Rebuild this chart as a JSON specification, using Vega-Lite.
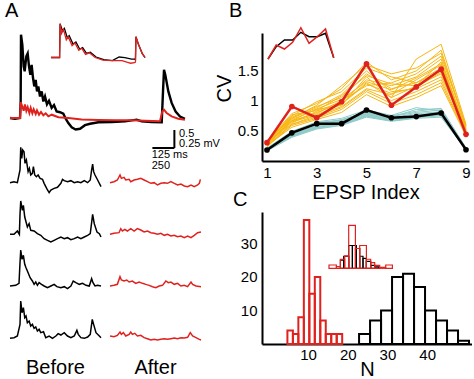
{
"$schema": "https://vega.github.io/schema/vega-lite/v6.json",
"background": "white",
"padding": {"left": 5, "top": 1, "right": 0, "bottom": 0},
"config": {
 "view": {"stroke": null},
 "font": "Liberation Sans",
 "axis": {"domainColor": "black", "domainWidth": 2, "ticks": false, "grid": false, "labelColor": "black", "labelFontSize": 15, "labelFont": "Liberation Sans", "titleFont": "Liberation Sans", "titleFontSize": 20, "titleFontWeight": "normal", "titleColor": "black"}
},
"datasets": {
 "mainTr": [
  {"cond": "Before", "t": [0,28,57,60.6,62.5,70,77.7,83.3,92.8,100.4,108,115.6,123,130.7,138,146,153.4,161,170.5,180,189.4,199,210,221.6,236.7,250,265,284,303,316.5,331.5,350.5,373,398,426,455,502,578,653.5,720,748,805,862,869.4,875,882.5,899.6,918.5,941,966,994],
   "v": [0,-0.01,0,0.23,1.16,1.02,0.72,0.65,0.86,0.90,0.72,0.60,0.74,0.56,0.44,0.53,0.37,0.44,0.30,0.37,0.23,0.30,0.19,0.24,0.14,0.18,0.09,0.08,0.06,-0.01,-0.07,-0.13,-0.16,-0.15,-0.10,-0.08,-0.06,-0.056,-0.046,-0.023,-0.046,-0.056,-0.06,0.37,0.67,0.60,0.37,0.21,0.09,0.02,-0.01]},
  {"cond": "After", "t": [0,57,60.6,70,77.7,85,92.8,100.4,110,117.5,127,134.6,146,153.4,165,176,189.4,203,218,237,275,331.5,407,502,597,691.5,767,852,866,875,890,918.5,956,994],
   "v": [0,0,0.22,0.16,0.10,0.19,0.10,0.15,0.07,0.14,0.065,0.12,0.056,0.107,0.046,0.084,0.037,0.065,0.023,0.046,0.01,0,-0.02,-0.028,-0.032,-0.032,-0.037,-0.046,0.093,0.116,0.07,0.023,-0.01,-0.023]}
 ],
 "insetA": [
  {"cond": "Before", "u": [1,10,10.5,13,15,18,20,24,27,31,34,38,42,48,56,65,72,78,85,88,89,89.5,92,96,99],
   "w": [24,24,89,75,80,62,66,50,54,40,43,32,34,25,20,18,25,24,21,21,20,64,50,32,24]},
  {"cond": "After", "u": [1,10,10.5,12,14,17,19,23,26,30,33,37,41,47,55,65,75,80,84,88,89,89.5,92,96,99],
   "w": [24,24,89,70,78,58,64,47,52,38,42,30,33,24,19,18,18,15,13,14,15,64,50,32,24]}
 ],
 "small": [
  {"trial": 1, "cond": "Before", "t": [0,4.4,8.1,11,11.8,12.9,14,15.4,16.5,18,19.9,21.3,22.8,24.6,25.7,27.2,29,30.9,33.1,35.7,37.5,39.3,41.2,43,44.9,48.5,52.2,55.9,57.7,59.6,63.2,66.9,70.6,74.3,77.9,81.6,85.3,88.2,89.7,90.8,91.9,93.4,96.3,100],
   "v": [0,0.03,0,0.38,1.06,0.73,0.98,0.93,0.58,0.68,0.33,0.43,0.23,0.28,0.48,0.23,0.18,0.23,0.13,0.10,-0.02,-0.12,-0.22,-0.30,-0.22,-0.17,-0.14,-0.02,0.10,0.06,0.03,0.06,0,0.03,0,0.06,0,0.08,0.38,0.56,0.33,0.23,0.08,-0.12]},
  {"trial": 1, "cond": "After", "t": [0,4.4,8.1,11,12.5,15.4,17.3,21,22.8,26.5,30.1,33.8,37.5,41.2,44.9,48.5,52.2,55.9,59.6,63.2,66.9,70.6,74.3,77.9,81.6,85.3,89,92.6,96.3,98.2,99.3],
   "v": [0,0.03,0.08,0.23,0.13,0.16,0.08,0.10,0.03,0.08,0.10,0.13,0.08,0.03,-0.02,0,-0.07,-0.02,0,-0.02,0.03,-0.02,-0.07,-0.04,-0.10,-0.12,-0.07,-0.12,-0.07,-0.02,0.10]},
  {"trial": 2, "cond": "Before", "t": [0,4.4,8.1,10.3,11,11.8,13.6,14.7,16.2,19.1,21,22.8,26.5,30.1,33.8,37.5,41.2,44.9,48.5,52.2,55.9,59.6,63.2,66.9,70.6,74.3,77.9,81.6,85.3,88.2,89.7,90.8,92.6,95.6,98.2,100],
   "v": [0,0,0.1,0,0.6,1.0,0.72,0.87,0.52,0.22,0.32,0.12,0.10,0.02,-0.03,-0.13,-0.18,-0.23,-0.18,-0.13,-0.08,-0.13,-0.10,-0.16,-0.13,-0.08,-0.13,-0.08,-0.03,0.02,0.35,0.60,0.32,0.07,0.02,-0.08]},
  {"trial": 2, "cond": "After", "t": [0,4.4,9.9,11.8,13.6,16.2,19.1,22.8,26.5,30.1,33.8,37.5,41.2,44.9,48.5,52.2,55.9,59.6,63.2,66.9,70.6,74.3,77.9,81.6,85.3,89,92.6,96.3,100],
   "v": [0,0.03,0.05,0.17,0.10,0.15,0.10,0.17,0.10,0.17,0.13,0.07,0.10,0.05,0.03,0,0.03,-0.03,0,-0.05,-0.03,-0.07,-0.05,-0.10,-0.05,-0.10,-0.03,0.05,0.07]},
  {"trial": 3, "cond": "Before", "t": [0,6.3,9.9,11,11.8,13.2,14.7,16.2,17.6,19.9,22.1,24.6,26.5,28.3,30.1,32,34.6,37.5,41.2,44.9,48.5,51.5,55.9,59.6,63.2,66.9,69.5,72.4,76.1,79.8,83.5,87.1,89.7,91.2,93.4,96.3,100],
   "v": [0,0.02,0.08,0.70,1.08,0.80,0.92,0.65,0.55,0.40,0.25,0.15,0.05,0.12,0.02,0.10,0.05,0,-0.05,0,0.05,-0.02,-0.05,-0.02,-0.08,0,0.15,0.10,0.05,0.08,0.02,0,0.22,0.10,0,0.02,0]},
  {"trial": 3, "cond": "After", "t": [0,4.4,8.1,11,12.5,15.4,18.4,21,24.6,28.3,32,35.7,39.3,43,46.7,50.4,54,57.7,61.4,64,66.9,70.6,74.3,77.9,81.6,85.3,89,90.8,94.5,100],
   "v": [0,0.02,0.05,0.28,0.18,0.15,0.18,0.12,0.15,0.08,0.12,0.08,0.05,0.02,-0.02,-0.05,0,0.02,0.15,0.10,0.12,0.05,0.08,0,0.02,-0.02,0.12,0.05,0,-0.02]},
  {"trial": 4, "cond": "Before", "t": [0,4.4,8.1,11,11.8,13.2,14.7,16.2,17.6,19.1,21,22.8,24.6,26.5,28.3,30.1,32,33.8,36.8,39.3,43,46.7,50.4,52.9,55.9,59.6,63.2,66.9,70.6,73.5,75,77.9,81.6,85.3,88.2,90.4,91.9,94.5,98.2,100],
   "v": [-0.02,0,0.05,0.40,1.10,0.75,0.90,0.60,0.65,0.45,0.50,0.35,0.40,0.28,0.32,0.20,0.25,0.15,0.18,0,0.05,-0.02,0.05,0.12,0.08,0.15,0.05,0,0.05,0.22,0.10,0,-0.02,0.02,0.10,0.55,0.40,0.15,0.05,0]},
  {"trial": 4, "cond": "After", "t": [0,4.4,8.1,11,12.5,14.7,17.3,21,22.8,24.6,27.2,30.1,33.8,37.5,41.2,44.9,48.5,52.2,55.9,59.6,63.2,66.9,70.6,74.3,77.9,81.6,85.3,88.2,90.8,94.5,98.2,100],
   "v": [0.05,0.03,0.07,0.17,0.10,0.15,0.05,0.10,0.17,0.10,0.13,0.05,0.07,0,-0.03,-0.07,-0.05,-0.07,-0.05,-0.03,-0.05,-0.03,-0.01,-0.03,0,-0.01,0.01,0.15,0.05,0,-0.05,-0.07]}
 ],
 "cv": [
  {"line": "o1", "grp": "o", "i": [1,2,3,4,5,6,7,8,9], "cv": [0.28,0.65,0.80,0.95,1.30,1.05,1.25,1.45,0.45]},
  {"line": "o2", "grp": "o", "i": [1,2,3,4,5,6,7,8,9], "cv": [0.25,0.60,0.75,0.90,1.20,1.10,1.35,1.60,0.50]},
  {"line": "o3", "grp": "o", "i": [1,2,3,4,5,6,7,8,9], "cv": [0.30,0.72,0.90,1.05,1.45,1.20,1.30,1.55,0.48]},
  {"line": "o4", "grp": "o", "i": [1,2,3,4,5,6,7,8,9], "cv": [0.22,0.58,0.70,0.85,1.15,0.95,1.10,1.30,0.42]},
  {"line": "o5", "grp": "o", "i": [1,2,3,4,5,6,7,8,9], "cv": [0.32,0.78,0.95,1.20,1.65,1.35,1.50,1.85,0.55]},
  {"line": "o6", "grp": "o", "i": [1,2,3,4,5,6,7,8,9], "cv": [0.27,0.62,0.82,0.98,1.35,1.25,1.40,1.70,0.47]},
  {"line": "o7", "grp": "o", "i": [1,2,3,4,5,6,7,8,9], "cv": [0.24,0.55,0.68,0.80,1.10,0.90,1.05,1.25,0.40]},
  {"line": "o8", "grp": "o", "i": [1,2,3,4,5,6,7,8,9], "cv": [0.30,0.70,0.88,1.10,1.50,1.15,1.20,1.40,0.52]},
  {"line": "o9", "grp": "o", "i": [1,2,3,4,5,6,7,8,9], "cv": [0.26,0.66,0.78,1.00,1.25,1.30,1.45,1.75,0.58]},
  {"line": "o10", "grp": "o", "i": [1,2,3,4,5,6,7,8,9], "cv": [0.29,0.68,0.85,0.92,1.40,1.05,1.70,1.95,0.60]},
  {"line": "o11", "grp": "o", "i": [1,2,3,4,5,6,7,8,9], "cv": [0.23,0.60,0.72,0.88,1.18,1.00,1.15,1.35,0.44]},
  {"line": "o12", "grp": "o", "i": [1,2,3,4,5,6,7,8,9], "cv": [0.31,0.74,0.98,1.15,1.55,1.40,1.30,1.50,0.50]},
  {"line": "o13", "grp": "o", "i": [1,2,3,4,5,6,7,8,9], "cv": [0.27,0.64,0.76,0.94,1.28,1.12,1.22,1.48,0.46]},
  {"line": "o14", "grp": "o", "i": [1,2,3,4,5,6,7,8,9], "cv": [0.25,0.70,0.92,1.25,1.60,1.45,1.55,1.80,0.57]},
  {"line": "o15", "grp": "o", "i": [1,2,3,4,5,6,7,8,9], "cv": [0.28,0.66,0.86,1.02,1.32,1.18,1.38,1.62,0.49]},
  {"line": "o16", "grp": "o", "i": [1,2,3,4,5,6,7,8,9], "cv": [0.30,0.76,0.83,1.08,1.42,1.28,1.25,1.65,0.53]},
  {"line": "c1", "grp": "c", "i": [1,2,3,4,5,6,7,8,9], "cv": [0.17,0.42,0.58,0.63,0.78,0.70,0.75,0.80,0.18]},
  {"line": "c2", "grp": "c", "i": [1,2,3,4,5,6,7,8,9], "cv": [0.16,0.40,0.55,0.60,0.75,0.68,0.72,0.76,0.17]},
  {"line": "c3", "grp": "c", "i": [1,2,3,4,5,6,7,8,9], "cv": [0.19,0.46,0.62,0.66,0.82,0.73,0.80,0.84,0.19]},
  {"line": "c4", "grp": "c", "i": [1,2,3,4,5,6,7,8,9], "cv": [0.15,0.38,0.52,0.58,0.72,0.65,0.70,0.72,0.17]},
  {"line": "c5", "grp": "c", "i": [1,2,3,4,5,6,7,8,9], "cv": [0.18,0.44,0.60,0.68,0.80,0.72,0.85,0.86,0.20]},
  {"line": "c6", "grp": "c", "i": [1,2,3,4,5,6,7,8,9], "cv": [0.17,0.41,0.56,0.62,0.76,0.69,0.74,0.78,0.18]},
  {"line": "c7", "grp": "c", "i": [1,2,3,4,5,6,7,8,9], "cv": [0.20,0.48,0.64,0.70,0.84,0.75,0.88,0.82,0.19]},
  {"line": "c8", "grp": "c", "i": [1,2,3,4,5,6,7,8,9], "cv": [0.16,0.39,0.54,0.61,0.74,0.66,0.71,0.75,0.17]},
  {"line": "c9", "grp": "c", "i": [1,2,3,4,5,6,7,8,9], "cv": [0.18,0.45,0.61,0.64,0.79,0.71,0.78,0.81,0.18]},
  {"line": "c10", "grp": "c", "i": [1,2,3,4,5,6,7,8,9], "cv": [0.17,0.43,0.57,0.65,0.77,0.67,0.76,0.79,0.19]},
  {"line": "c11", "grp": "c", "i": [1,2,3,4,5,6,7,8,9], "cv": [0.19,0.47,0.63,0.67,0.81,0.74,0.82,0.87,0.20]},
  {"line": "c12", "grp": "c", "i": [1,2,3,4,5,6,7,8,9], "cv": [0.16,0.40,0.53,0.59,0.73,0.66,0.73,0.74,0.17]},
  {"line": "red", "grp": "red", "i": [1,2,3,4,5,6,7,8,9], "cv": [0.29,0.90,0.71,0.98,1.62,0.92,1.23,1.53,0.43]},
  {"line": "black", "grp": "black", "i": [1,2,3,4,5,6,7,8,9], "cv": [0.165,0.455,0.61,0.61,0.84,0.71,0.73,0.79,0.17]}
 ],
 "cvInset": [
  {"grp": "black", "i": [1,2,3,4,5,6,7,8,9], "cvn": [0.6,1.83,2.5,2.5,3.27,2.83,2.83,3.17,0.73]},
  {"grp": "red", "i": [1,2,3,4,5,6,7,8,9], "cvn": [0.6,2.0,1.6,2.27,3.73,2.17,2.83,3.6,0.73]}
 ],
 "hist": [
  {"grp": "red", "x0": 4.8, "x1": 6.18, "n": 4},
  {"grp": "red", "x0": 6.18, "x1": 7.56, "n": 3},
  {"grp": "red", "x0": 7.56, "x1": 8.94, "n": 8},
  {"grp": "red", "x0": 8.94, "x1": 10.32, "n": 37},
  {"grp": "red", "x0": 10.32, "x1": 11.7, "n": 15},
  {"grp": "red", "x0": 11.7, "x1": 13.08, "n": 20},
  {"grp": "red", "x0": 13.08, "x1": 14.46, "n": 7},
  {"grp": "red", "x0": 14.46, "x1": 15.84, "n": 3},
  {"grp": "red", "x0": 15.84, "x1": 17.22, "n": 3},
  {"grp": "red", "x0": 17.22, "x1": 18.6, "n": 3},
  {"grp": "black", "x0": 22.85, "x1": 25.62, "n": 3},
  {"grp": "black", "x0": 25.62, "x1": 28.39, "n": 7},
  {"grp": "black", "x0": 28.39, "x1": 31.16, "n": 10},
  {"grp": "black", "x0": 31.16, "x1": 33.93, "n": 20},
  {"grp": "black", "x0": 33.93, "x1": 36.7, "n": 21},
  {"grp": "black", "x0": 36.7, "x1": 39.47, "n": 17},
  {"grp": "black", "x0": 39.47, "x1": 42.24, "n": 10},
  {"grp": "black", "x0": 42.24, "x1": 45.01, "n": 7},
  {"grp": "black", "x0": 45.01, "x1": 47.78, "n": 4},
  {"grp": "black", "x0": 47.78, "x1": 50.55, "n": 1}
 ],
 "histInset": [
  {"grp": "red", "x0": 3.3, "x1": 10.7, "f": 0.077},
  {"grp": "red", "x0": 10.7, "x1": 14.7, "f": 0.04},
  {"grp": "red", "x0": 14.7, "x1": 19, "f": 0.21},
  {"grp": "red", "x0": 19, "x1": 23, "f": 0.29},
  {"grp": "red", "x0": 23, "x1": 29.7, "f": 1.0},
  {"grp": "red", "x0": 29.7, "x1": 34, "f": 0.46},
  {"grp": "red", "x0": 34, "x1": 40.7, "f": 0.53},
  {"grp": "red", "x0": 40.7, "x1": 45, "f": 0.21},
  {"grp": "red", "x0": 45, "x1": 49, "f": 0.13},
  {"grp": "red", "x0": 49, "x1": 54, "f": 0.07},
  {"grp": "red", "x0": 54, "x1": 60, "f": 0.023},
  {"grp": "red", "x0": 60, "x1": 66.7, "f": 0.077},
  {"grp": "black", "x0": 14.7, "x1": 18, "f": 0.19},
  {"grp": "black", "x0": 18, "x1": 23, "f": 0.28},
  {"grp": "black", "x0": 23, "x1": 26.7, "f": 0.53},
  {"grp": "black", "x0": 26.7, "x1": 30.7, "f": 0.53},
  {"grp": "black", "x0": 30.7, "x1": 34, "f": 0.46},
  {"grp": "black", "x0": 34, "x1": 37.3, "f": 0.28},
  {"grp": "black", "x0": 37.3, "x1": 40.7, "f": 0.23},
  {"grp": "black", "x0": 40.7, "x1": 45, "f": 0.16},
  {"grp": "black", "x0": 45, "x1": 49, "f": 0.07},
  {"grp": "black", "x0": 49, "x1": 53, "f": 0.035}
 ]
},
"spacing": -6,
"hconcat": [
 {
  "spacing": 6,
  "bounds": "flush",
  "vconcat": [
   {
    "width": 176,
    "height": 107,
    "layer": [
     {
      "encoding": {
       "x": {"field": "t", "type": "quantitative", "scale": {"domain": [0, 1000], "nice": false, "zero": false}, "axis": null},
       "y": {"field": "v", "type": "quantitative", "scale": {"domain": [-0.306, 1.183], "nice": false, "zero": false}, "axis": null}
      },
      "layer": [
       {"data": {"name": "mainTr"}, "transform": [{"filter": "datum.cond == 'Before'"}, {"flatten": ["t", "v"]}], "mark": {"type": "line", "color": "black", "strokeWidth": 2.4}},
       {"data": {"name": "mainTr"}, "transform": [{"filter": "datum.cond == 'After'"}, {"flatten": ["t", "v"]}], "mark": {"type": "line", "color": "#e0221e", "strokeWidth": 2}}
      ]
     },
     {
      "encoding": {
       "x": {"field": "u", "type": "quantitative", "scale": {"domain": [0, 100], "range": [40, 136], "nice": false, "zero": false}, "axis": null},
       "y": {"field": "w", "type": "quantitative", "scale": {"domain": [0, 100], "range": [37, -15], "nice": false, "zero": false}, "axis": null}
      },
      "layer": [
       {"data": {"values": [{}]}, "mark": {"type": "rect", "filled": false, "stroke": "#555555", "strokeWidth": 1.2}, "encoding": {"x": {"datum": 0}, "x2": {"datum": 100}, "y": {"datum": 0}, "y2": {"datum": 100}}},
       {"data": {"name": "insetA"}, "transform": [{"filter": "datum.cond == 'Before'"}, {"flatten": ["u", "w"]}], "mark": {"type": "line", "color": "black", "strokeWidth": 1.3}},
       {"data": {"name": "insetA"}, "transform": [{"filter": "datum.cond == 'After'"}, {"flatten": ["u", "w"]}], "mark": {"type": "line", "color": "#e0221e", "strokeWidth": 1.3}}
      ]
     },
     {
      "data": {"values": [{}]},
      "encoding": {
       "x": {"type": "quantitative", "scale": {"domain": [0, 1000], "range": [0, 176], "nice": false, "zero": false}, "axis": null},
       "y": {"type": "quantitative", "scale": {"domain": [-0.306, 1.183], "range": [107, 0], "nice": false, "zero": false}, "axis": null}
      },
      "layer": [
       {"mark": {"type": "rule", "color": "black", "strokeWidth": 2}, "encoding": {"x": {"datum": 809}, "x2": {"datum": 934}, "y": {"datum": -0.417}}},
       {"mark": {"type": "rule", "color": "black", "strokeWidth": 2}, "encoding": {"x": {"datum": 934}, "y": {"datum": -0.417}, "y2": {"datum": -0.167}}},
       {"mark": {"type": "text", "align": "left", "baseline": "middle", "fontSize": 11, "color": "black"}, "encoding": {"text": {"value": "0.5"}, "x": {"datum": 960}, "y": {"datum": -0.2156}}},
       {"mark": {"type": "text", "align": "left", "baseline": "middle", "fontSize": 11, "color": "black"}, "encoding": {"text": {"value": "0.25 mV"}, "x": {"datum": 960}, "y": {"datum": -0.3686}}},
       {"mark": {"type": "text", "align": "left", "baseline": "middle", "fontSize": 11, "color": "black"}, "encoding": {"text": {"value": "125 ms"}, "x": {"datum": 805}, "y": {"datum": -0.5148}}},
       {"mark": {"type": "text", "align": "left", "baseline": "middle", "fontSize": 11, "color": "black"}, "encoding": {"text": {"value": "250"}, "x": {"datum": 805}, "y": {"datum": -0.668}}},
       {"mark": {"type": "text", "align": "left", "baseline": "top", "fontSize": 20, "color": "black"}, "encoding": {"text": {"value": "A"}, "x": {"datum": -28.4}, "y": {"datum": 1.628}}}
      ]
     }
    ],
    "resolve": {"scale": {"x": "independent", "y": "independent"}}
   },
   {
    "data": {"name": "small"},
    "transform": [{"flatten": ["t", "v"]}],
    "bounds": "flush",
    "facet": {
     "row": {"field": "trial", "type": "ordinal", "header": {"labels": false, "title": null}},
     "column": {"field": "cond", "type": "nominal", "sort": ["Before", "After"], "header": {"title": null, "labelOrient": "bottom", "labelFontSize": 20, "labelFont": "Liberation Sans", "labelColor": "black", "labelPadding": 10}}
    },
    "spacing": {"row": 4.67, "column": 9},
    "spec": {
     "width": 91,
     "height": 46.67,
     "mark": {"type": "line", "strokeWidth": 1.5},
     "encoding": {
      "x": {"field": "t", "type": "quantitative", "scale": {"domain": [0, 100], "nice": false, "zero": false}, "axis": null},
      "y": {"field": "v", "type": "quantitative", "scale": {"domain": [-0.3, 1.1], "nice": false, "zero": false}, "axis": null},
      "color": {"field": "cond", "type": "nominal", "scale": {"domain": ["Before", "After"], "range": ["black", "#e0221e"]}, "legend": null}
     }
    }
   }
  ]
 },
 {
  "spacing": 51,
  "bounds": "flush",
  "vconcat": [
   {
    "width": 207,
    "height": 128,
    "layer": [
     {
      "encoding": {
       "x": {"field": "i", "type": "quantitative", "scale": {"domain": [0.8, 9.12], "nice": false, "zero": false}, "axis": {"values": [1, 3, 5, 7, 9], "title": "EPSP Index", "titlePadding": 2, "labelPadding": 4}},
       "y": {"field": "cv", "type": "quantitative", "scale": {"domain": [-0.02, 2.14], "nice": false, "zero": false}, "axis": {"values": [0.5, 1, 1.5], "format": ".2~g", "title": "CV", "titleY": 55, "titlePadding": 3, "labelPadding": 4}}
      },
      "layer": [
       {"data": {"name": "cv"}, "transform": [{"filter": "datum.grp == 'o'"}, {"flatten": ["i", "cv"]}], "mark": {"type": "line", "color": "#f7b713", "strokeWidth": 1}, "encoding": {"detail": {"field": "line"}}},
       {"data": {"name": "cv"}, "transform": [{"filter": "datum.grp == 'c'"}, {"flatten": ["i", "cv"]}], "mark": {"type": "line", "color": "#8ecbc8", "strokeWidth": 1}, "encoding": {"detail": {"field": "line"}}},
       {"data": {"name": "cv"}, "transform": [{"filter": "datum.grp == 'red'"}, {"flatten": ["i", "cv"]}], "mark": {"type": "line", "color": "#e0221e", "strokeWidth": 2.5}},
       {"data": {"name": "cv"}, "transform": [{"filter": "datum.grp == 'red'"}, {"flatten": ["i", "cv"]}], "mark": {"type": "point", "filled": true, "color": "#e0221e", "size": 32, "opacity": 1}},
       {"data": {"name": "cv"}, "transform": [{"filter": "datum.grp == 'black'"}, {"flatten": ["i", "cv"]}], "mark": {"type": "line", "color": "black", "strokeWidth": 2.5}},
       {"data": {"name": "cv"}, "transform": [{"filter": "datum.grp == 'black'"}, {"flatten": ["i", "cv"]}], "mark": {"type": "point", "filled": true, "color": "black", "size": 32, "opacity": 1}}
      ]
     },
     {
      "encoding": {
       "x": {"field": "i", "type": "quantitative", "scale": {"domain": [0.72, 9.8], "range": [3.7, 78.3], "nice": false, "zero": false}, "axis": null},
       "y": {"field": "cvn", "type": "quantitative", "scale": {"domain": [0, 4.6], "range": [32, -14], "nice": false, "zero": false}, "axis": null}
      },
      "layer": [
       {"data": {"values": [{}]}, "mark": {"type": "rect", "filled": false, "stroke": "#555555", "strokeWidth": 1.2}, "encoding": {"x": {"datum": 0.72}, "x2": {"datum": 9.8}, "y": {"datum": 0}, "y2": {"datum": 4.6}}},
       {"data": {"name": "cvInset"}, "transform": [{"filter": "datum.grp == 'black'"}, {"flatten": ["i", "cvn"]}], "mark": {"type": "line", "color": "black", "strokeWidth": 1.5}},
       {"data": {"name": "cvInset"}, "transform": [{"filter": "datum.grp == 'red'"}, {"flatten": ["i", "cvn"]}], "mark": {"type": "line", "color": "#e0221e", "strokeWidth": 1.5}}
      ]
     },
     {
      "data": {"values": [{}]},
      "encoding": {
       "x": {"type": "quantitative", "scale": {"domain": [0.8, 9.12], "range": [0, 207], "nice": false, "zero": false}, "axis": null},
       "y": {"type": "quantitative", "scale": {"domain": [-0.02, 2.14], "range": [128, 0], "nice": false, "zero": false}, "axis": null}
      },
      "layer": [
       {"mark": {"type": "text", "align": "left", "baseline": "top", "fontSize": 20, "color": "black"}, "encoding": {"text": {"value": "B"}, "x": {"datum": -0.527}, "y": {"datum": 2.68}}}
      ]
     }
    ],
    "resolve": {"scale": {"x": "independent", "y": "independent"}}
   },
   {
    "width": 210,
    "height": 132,
    "layer": [
     {
      "encoding": {
       "x": {"field": "x0", "type": "quantitative", "scale": {"domain": [-1.6, 51.3], "nice": false, "zero": false}, "axis": {"values": [10, 20, 30, 40], "title": "N", "titlePadding": -3, "labelPadding": 3}},
       "y": {"field": "n", "type": "quantitative", "scale": {"domain": [0, 39.4], "nice": false, "zero": false}, "axis": {"values": [10, 20, 30], "title": null, "labelPadding": 5}}
      },
      "layer": [
       {"data": {"name": "hist"}, "transform": [{"filter": "datum.grp == 'black'"}], "mark": {"type": "rect", "filled": false, "stroke": "black", "strokeWidth": 2}, "encoding": {"x2": {"field": "x1"}, "y2": {"datum": 0}}},
       {"data": {"name": "hist"}, "transform": [{"filter": "datum.grp == 'red'"}], "mark": {"type": "rect", "filled": false, "stroke": "#e0221e", "strokeWidth": 2}, "encoding": {"x2": {"field": "x1"}, "y2": {"datum": 0}}}
      ]
     },
     {
      "encoding": {
       "x": {"field": "x0", "type": "quantitative", "scale": {"domain": [0, 70], "range": [63.7, 133.7], "nice": false, "zero": false}, "axis": null},
       "y": {"field": "f", "type": "quantitative", "scale": {"domain": [0, 1.386], "range": [56.3, -3.3], "nice": false, "zero": false}, "axis": null}
      },
      "layer": [
       {"data": {"values": [{}]}, "mark": {"type": "rect", "filled": false, "stroke": "#555555", "strokeWidth": 1.2}, "encoding": {"x": {"datum": 0}, "x2": {"datum": 70}, "y": {"datum": -0.023}, "y2": {"datum": 1.386}}},
       {"data": {"name": "histInset"}, "transform": [{"filter": "datum.grp == 'black'"}], "mark": {"type": "rect", "filled": false, "stroke": "black", "strokeWidth": 1.2}, "encoding": {"x2": {"field": "x1"}, "y2": {"datum": 0}}},
       {"data": {"name": "histInset"}, "transform": [{"filter": "datum.grp == 'red'"}], "mark": {"type": "rect", "filled": false, "stroke": "#e0221e", "strokeWidth": 1.2}, "encoding": {"x2": {"field": "x1"}, "y2": {"datum": 0}}}
      ]
     },
     {
      "data": {"values": [{}]},
      "encoding": {
       "x": {"type": "quantitative", "scale": {"domain": [-1.6, 51.3], "range": [0, 210], "nice": false, "zero": false}, "axis": null},
       "y": {"type": "quantitative", "scale": {"domain": [0, 39.4], "range": [132, 0], "nice": false, "zero": false}, "axis": null}
      },
      "layer": [
       {"mark": {"type": "text", "align": "left", "baseline": "top", "fontSize": 20, "color": "black"}, "encoding": {"text": {"value": "C"}, "x": {"datum": -8.9}, "y": {"datum": 46}}}
      ]
     }
    ],
    "resolve": {"scale": {"x": "independent", "y": "independent"}}
   }
  ]
 }
]
}
